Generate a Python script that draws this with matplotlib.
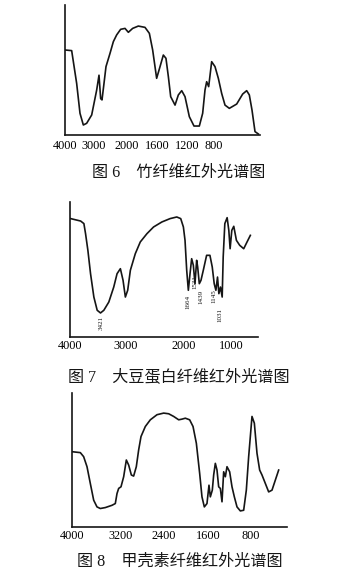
import numpy as np
import matplotlib.pyplot as plt

# ── Data (wavenumber cm-1, transmittance %) ──────────────────────────────────

bamboo_wn = [4000, 3770, 3598, 3483, 3368, 3253, 3080, 2918, 2847, 2796, 2755,
             2694, 2633, 2510, 2408, 2306, 2184, 2051, 1978, 1922, 1848, 1761,
             1704, 1661, 1609, 1564, 1520, 1485, 1453, 1422, 1364, 1320, 1275,
             1231, 1170, 1100, 1020, 970, 935, 910, 880, 835, 785, 735, 685,
             635, 570, 460, 370, 310, 270, 230, 185, 135]
bamboo_t = [65.4, 64.9, 39.7, 16.7, 7.7, 9.0, 15.4, 34.6, 46.0, 28.0, 27.0,
            39.7, 52.6, 62.8, 71.8, 77.0, 81.3, 82.0, 79.0, 82.0, 83.8, 82.8,
            78.2, 65.4, 43.6, 52.6, 61.5, 59.0, 44.9, 29.5, 23.0, 30.8, 34.1,
            29.5, 14.1, 6.9, 6.9, 16.7, 34.6, 41.0, 37.2, 56.4, 52.6, 43.6, 32.0,
            23.0, 20.5, 23.8, 31.5, 34.1, 30.8, 19.2, 2.6, 0.8]
bamboo_ticks = [4000, 3000, 2000, 1600, 1200, 800]

soy_wn = [3988, 3808, 3749, 3719, 3677, 3629, 3569, 3509, 3449, 3389, 3299,
          3210, 3150, 3090, 3042, 3000, 2960, 2914, 2829, 2743, 2629, 2514,
          2371, 2229, 2114, 2046, 2000, 1966, 1931, 1897, 1862, 1828, 1793,
          1759, 1724, 1703, 1669, 1634, 1586, 1517, 1448, 1400, 1359, 1324,
          1290, 1262, 1228, 1193, 1172, 1138, 1090, 1055, 1028, 993, 952, 897,
          828, 745, 676, 607]
soy_t = [87.7, 85.9, 84.0, 76.5, 64.2, 46.9, 29.6, 19.8, 17.8, 19.8, 25.9,
         37.0, 46.9, 50.6, 42.0, 29.6, 34.6, 49.4, 61.7, 70.4, 76.5, 81.5,
         85.2, 87.7, 88.9, 87.7, 81.5, 71.6, 49.4, 34.6, 46.9, 58.0, 53.1,
         39.5, 56.8, 51.9, 39.5, 42.0, 49.4, 60.5, 60.5, 51.9, 39.5, 34.6,
         44.4, 32.1, 37.0, 29.6, 59.3, 84.0, 88.4, 79.0, 65.4, 79.0, 82.0, 71.6,
         67.9, 65.4, 70.4, 75.3]
soy_ticks = [4000, 3000, 2000, 1000]
soy_peak_labels = ['3421', '1664', '1531', '1439', '1145', '1031']
soy_peak_wn = [3431, 1903, 1762, 1635, 1365, 1241]
soy_peak_t = [10.1, 25.7, 40.5, 29.4, 30.1, 16.0]

chitin_wn = [4000, 3864, 3810, 3755, 3701, 3646, 3592, 3538, 3456, 3347, 3293,
             3265, 3238, 3200, 3150, 3100, 3056, 3006, 2963, 2913, 2869, 2825,
             2744, 2650, 2525, 2400, 2311, 2222, 2133, 2074, 2015, 1938, 1878,
             1819, 1760, 1719, 1677, 1630, 1594, 1568, 1530, 1504, 1472, 1440,
             1408, 1376, 1344, 1312, 1280, 1248, 1197, 1152, 1107, 1056, 992,
             928, 877, 832, 800, 768, 723, 672, 621, 576, 512, 448, 384, 320, 256]
chitin_t = [56.2, 55.5, 52.5, 45.0, 32.5, 20.0, 15.0, 13.8, 14.5, 16.2, 17.5,
            25.0, 28.8, 30.0, 37.5, 50.0, 46.2, 38.8, 38.0, 45.0, 57.5, 67.5,
            75.0, 80.0, 83.8, 85.0, 84.5, 82.5, 80.0, 80.5, 81.2, 80.0, 75.0,
            62.5, 40.0, 22.5, 15.0, 17.5, 31.2, 22.5, 27.5, 38.8, 47.5, 42.5,
            30.0, 28.8, 18.8, 41.2, 37.5, 45.0, 41.2, 30.0, 22.5, 15.0, 12.0,
            12.5, 27.5, 52.5, 67.5, 82.5, 77.5, 55.0, 42.5, 38.8, 32.5, 26.2,
            27.5, 35.0, 42.5]
chitin_ticks = [4000, 3200, 2400, 1600, 800]

captions = ['图 6　竹纤维红外光谱图',
            '图 7　大豆蛋白纤维红外光谱图',
            '图 8　甲壳素纤维红外光谱图']


# ── Piecewise wavenumber axis (old printed spectra change scale) ─────────────

def piecewise_scale(wn_knots, pos_knots):
    # increasing transform: scaled value = -(distance from the 4000 end)
    wk = np.array(wn_knots[::-1], float)
    pk = -np.array(pos_knots[::-1], float)

    def fwd(w):
        return np.interp(w, wk, pk)

    def inv(p):
        return np.interp(p, pk, wk)

    return fwd, inv


SERIF = ['Liberation Serif', 'DejaVu Serif']
CJK = ['Liberation Serif', 'Noto Sans CJK SC', 'DejaVu Sans']
INK = '#151515'

fig = plt.figure(figsize=(3.37, 5.82), dpi=100)

panels = [
    # rect, wn, t, ticks, scale knots, right xlim, label pad
    ([65/337, 1-135/582, 195/337, 130/582], bamboo_wn, bamboo_t, bamboo_ticks,
     ([4000, 3000, 2000, 1600, 1200, 800, 0], [45, 132, 230, 322, 412, 492, 652]), 110, 3.5),
    ([70/337, 1-337/582, 188/337, 135/582], soy_wn, soy_t, soy_ticks,
     ([4000, 3000, 2000, 1000, 0], [58, 225, 400, 545, 690]), 448, 2),
    ([72/337, 1-527/582, 215/337, 134/582], chitin_wn, chitin_t, chitin_ticks,
     ([4000, 3200, 2400, 1600, 800, 0], [65, 212, 340, 475, 600, 725]), 96, 2),
]

axes = []
for rect, wn, t, ticks, (wk, pk), right, pad in panels:
    ax = fig.add_axes(rect)
    ax.set_xscale('function', functions=piecewise_scale(wk, pk))
    ax.plot(wn, t, color=INK, lw=1.2, solid_joinstyle='round')
    ax.set_xlim(4000, right)
    ax.set_ylim(0, 100)
    ax.set_xticks(ticks)
    ax.set_xticklabels([str(v) for v in ticks], family=SERIF, fontsize=8.8)
    ax.minorticks_off()
    ax.set_yticks([])
    ax.tick_params(axis='x', length=0, pad=pad)
    for s in ('top', 'right'):
        ax.spines[s].set_visible(False)
    for s in ('left', 'bottom'):
        ax.spines[s].set_linewidth(1.2)
        ax.spines[s].set_color(INK)
    axes.append(ax)

# peak labels on the soy protein spectrum
for lab, w, t in zip(soy_peak_labels, soy_peak_wn, soy_peak_t):
    axes[1].text(w, t, lab, rotation=90, ha='center', va='center',
                 family=SERIF, fontsize=5, color=INK)

# figure captions
cap_pos = [(92/337, 1-173/582), (68/337, 1-377/582), (77/337, 1-562/582)]
for (x, y), txt in zip(cap_pos, captions):
    fig.text(x, y, txt, ha='left', va='center', family=CJK, fontsize=11.6,
             color=INK)

fig.savefig('out.png', dpi=100)
